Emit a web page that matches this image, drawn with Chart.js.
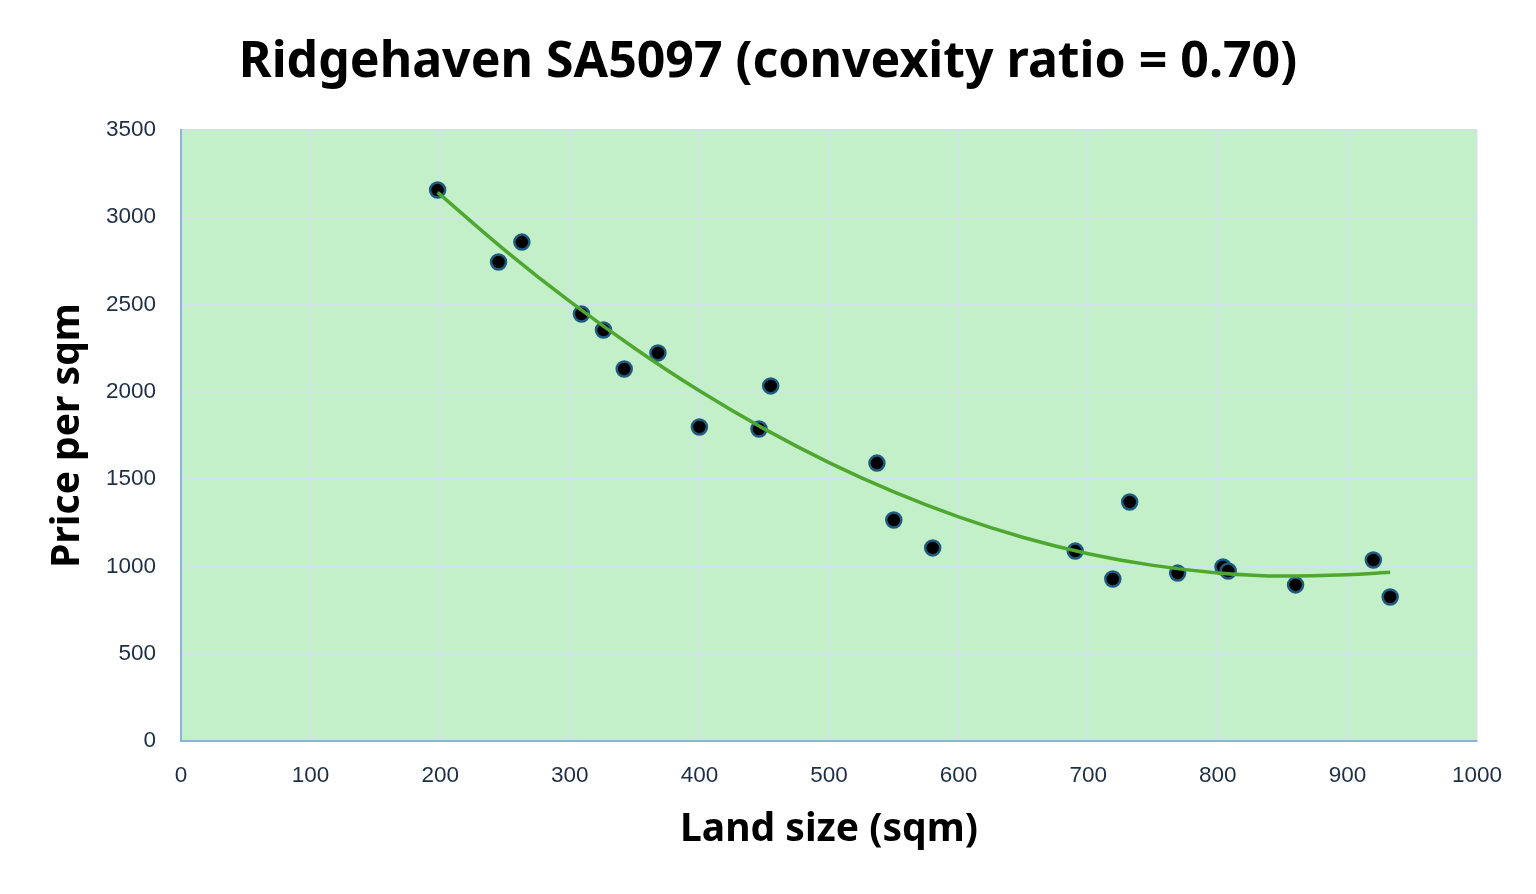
<!DOCTYPE html>
<html>
<head>
<meta charset="utf-8">
<script src="https://cdn.jsdelivr.net/npm/chart.js@4.4.1/dist/chart.umd.min.js"></script>
<style>
  html, body { margin: 0; padding: 0; background: #ffffff; }
  #wrap { width: 1536px; height: 894px; }
</style>
</head>
<body>
<div id="wrap"><canvas id="myChart" width="1536" height="894"></canvas></div>
<script>
// land size (sqm) and price per sqm
const landSize = [198, 245, 263, 309, 326, 342, 368, 400, 446, 455, 537, 550, 580, 690, 719, 732, 769, 804, 808, 860, 920, 933];
const pricePerSqm = [3156, 2744, 2858, 2446, 2354, 2131, 2223, 1799, 1787, 2034, 1592, 1266, 1106, 1088, 928, 1369, 962, 997, 974, 894, 1037, 825];

// trend curve samples
const trendX = [198, 250, 300, 350, 400, 450, 500, 550, 600, 650, 700, 750, 800, 850, 900, 933];
const trendY = [3143, 2811, 2518, 2250, 2006, 1788, 1595, 1427, 1284, 1166, 1073, 1006, 963, 945, 953, 966];

const xTicks = [0, 100, 200, 300, 400, 500, 600, 700, 800, 900, 1000];
const yTicks = [0, 500, 1000, 1500, 2000, 2500, 3000, 3500];

const plotBg = {
  id: 'plotBg',
  beforeDraw(chart) {
    const {ctx, chartArea: a} = chart;
    ctx.save();
    ctx.fillStyle = '#c3f0c9';
    ctx.fillRect(a.left, a.top, a.right - a.left, a.bottom - a.top);
    ctx.restore();
  }
};

const tickFont = { family: '"Liberation Sans", Arial, sans-serif', size: 22.5 };
const tickColor = '#1e2f45';
const boldFont = '"Noto Sans", "Open Sans", sans-serif';

let ctx = document.getElementById('myChart').getContext('2d');
let myChart = new Chart(ctx, {
  type: 'scatter',
  data: {
    datasets: [{
      type: 'line',
      label: 'Trend',
      data: trendX.map((x, i) => ({ x: x, y: trendY[i] })),
      borderColor: '#4ea72e',
      borderWidth: 3.5,
      pointRadius: 0,
      showLine: true,
      fill: false,
      tension: 0.4,
      cubicInterpolationMode: 'monotone',
      order: 0
    }, {
      label: 'Sales',
      data: landSize.map((x, i) => ({ x: x, y: pricePerSqm[i] })),
      backgroundColor: '#000000',
      borderColor: '#1d5b80',
      borderWidth: 2.5,
      pointRadius: 7.5,
      pointHoverRadius: 7.5,
      order: 1
    }]
  },
  options: {
    responsive: false,
    animation: false,
    devicePixelRatio: 1,
    // equal side padding keeps the title centred on the page
    layout: { padding: { left: 59, right: 59, top: 0, bottom: 0 } },
    plugins: {
      legend: { display: false },
      tooltip: { enabled: false },
      title: {
        display: true,
        text: 'Ridgehaven SA5097 (convexity ratio = 0.70)',
        color: '#000000',
        font: { family: boldFont, size: 50, weight: 'bold', lineHeight: 1.2 },
        padding: { top: 33, bottom: 37 }
      }
    },
    scales: {
      x: {
        type: 'linear',
        min: 0,
        max: 1000,
        afterBuildTicks: (s) => { s.ticks = xTicks.map(v => ({ value: v })); },
        afterFit: (s) => { s.height = 153; },
        grid: { color: '#d3e1ee', lineWidth: 1.5, drawTicks: false },
        border: { color: '#8cb2de', width: 2 },
        ticks: { color: tickColor, font: tickFont, padding: 21, maxRotation: 0, callback: (v) => String(v) },
        title: {
          display: true,
          text: 'Land size (sqm)',
          color: '#000000',
          font: { family: boldFont, size: 39, weight: 'bold', lineHeight: 1.2 },
          padding: { top: 0, bottom: 40.6 }
        }
      },
      y: {
        type: 'linear',
        min: 0,
        max: 3500,
        afterBuildTicks: (s) => { s.ticks = yTicks.map(v => ({ value: v })); },
        afterFit: (s) => { s.width = 122; },
        grid: { color: '#d3e1ee', lineWidth: 1.5, drawTicks: false },
        border: { color: '#8cb2de', width: 2 },
        ticks: { color: tickColor, font: tickFont, padding: 25, callback: (v) => String(v) },
        title: {
          display: true,
          text: 'Price per sqm',
          color: '#000000',
          font: { family: boldFont, size: 39, weight: 'bold', lineHeight: 1.2 },
          padding: { top: -14.4, bottom: 0 }
        }
      }
    }
  },
  plugins: [plotBg]
});
</script>
</body>
</html>
